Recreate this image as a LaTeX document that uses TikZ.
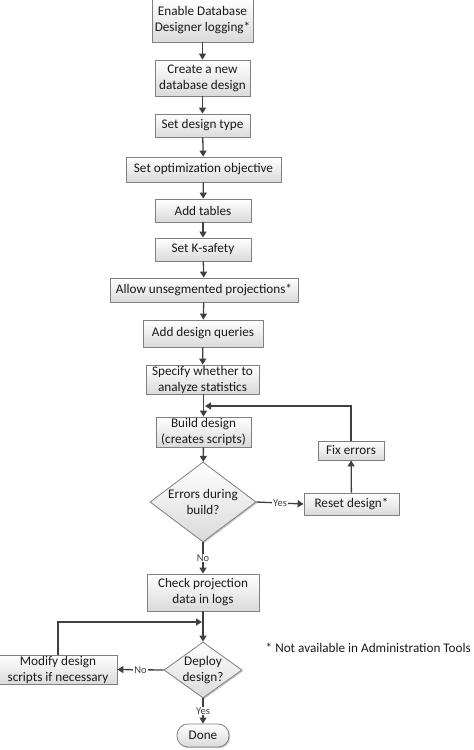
\documentclass[tikz,border=0pt]{standalone}
\usepackage{fontspec}
\setmainfont{Carlito}
\usetikzlibrary{shapes.geometric,shadows,arrows.meta}
\definecolor{boxline}{HTML}{7F7F7F}
\definecolor{arr}{HTML}{404040}
\definecolor{shadeb}{HTML}{DADADA}
\definecolor{txt}{HTML}{1A1A1A}
\begin{document}
\begin{tikzpicture}[x=1pt,y=-1pt,
  common/.style={draw=boxline, line width=0.8pt, top color=white, bottom color=shadeb,
    drop shadow={shadow xshift=1.2pt, shadow yshift=-1.2pt, fill=black, opacity=0.22}},
  stepbox/.style={common, rectangle, align=center, inner sep=0pt, text=txt,
    font=\fontsize{13.2}{16}\selectfont},
  decide/.style={common, diamond, inner sep=0pt},
  dtext/.style={align=center, inner sep=0pt, text=txt, font=\fontsize{13.2}{16}\selectfont},
  flow/.style={draw=arr, line width=1.3pt, -{Triangle[length=6pt,width=7pt]}},
  lbl/.style={fill=white, inner sep=1pt, text=arr, font=\fontsize{10.5}{11}\selectfont}
]
\useasboundingbox (0,0) rectangle (474,750);

\node[stepbox, minimum width=101pt, minimum height=43pt] (e1) at (202.5,20.5) {Enable Database\\Designer logging*};
\node[stepbox, minimum width=95pt, minimum height=36pt] (e2) at (202.5,78) {Create a new\\database design};
\node[stepbox, minimum width=95pt, minimum height=23pt] (e3) at (202.5,125.5) {Set design type};
\node[stepbox, minimum width=155pt, minimum height=25pt] (e4) at (203.5,169.5) {Set optimization objective};
\node[stepbox, minimum width=96pt, minimum height=23pt] (e5) at (203,210.5) {Add tables};
\node[stepbox, minimum width=96pt, minimum height=23pt] (e6) at (203,249.5) {Set K-safety};
\node[stepbox, minimum width=188pt, minimum height=24pt] (e7) at (204,290) {Allow unsegmented projections*};
\node[stepbox, minimum width=120pt, minimum height=27pt] (e8) at (203,333.5) {Add design queries};
\node[stepbox, minimum width=113pt, minimum height=29pt] (e9) at (202.5,379.5) {Specify whether to\\analyze statistics};
\node[stepbox, minimum width=95pt, minimum height=30pt] (e10) at (203.5,432) {Build design\\(creates scripts)};
\node[decide, minimum width=106pt, minimum height=80pt,
  label={[dtext]center:Errors during\\build?}] (d1) at (203,502) {};
\node[stepbox, minimum width=95pt, minimum height=22pt] (reset) at (351.5,504) {Reset design*};
\node[stepbox, minimum width=66pt, minimum height=19pt] (fix) at (351,450.5) {Fix errors};
\node[stepbox, minimum width=112pt, minimum height=37pt] (check) at (203,592.5) {Check projection\\data in logs};
\node[decide, minimum width=78pt, minimum height=56pt,
  label={[dtext]center:Deploy\\design?}] (d2) at (203,670) {};
\node[stepbox, minimum width=118pt, minimum height=29pt] (modify) at (58,669.5) {Modify design\\scripts if necessary};
\node[stepbox, rounded corners=11pt, minimum width=52pt, minimum height=23pt] (done) at (203,735.5) {Done};
\node[anchor=west, inner sep=0pt, text=txt, font=\fontsize{13.2}{15}\selectfont] (note) at (265.5,648) {* Not available in Administration Tools};

\coordinate (j1) at (203,406);
\coordinate (j2) at (203,622);

\draw[flow] (e1) -- (e2);
\draw[flow] (e2) -- (e3);
\draw[flow] (e3) -- (e4);
\draw[flow] (e4) -- (e5);
\draw[flow] (e5) -- (e6);
\draw[flow] (e6) -- (e7);
\draw[flow] (e7) -- (e8);
\draw[flow] (e8) -- (e9);
\draw[flow] (e9.south -| e10) -- (e10);
\draw[flow] (e10) -- (d1);
\draw[flow] (d1.east) -- node[lbl]{Yes} (reset.west);
\draw[flow] (reset) -- (fix);
\draw[flow] (fix.north) |- ([xshift=2pt]j1);
\draw[flow] (d1.south) -- node[lbl]{No} (check.north);
\draw[flow] (check) -- (d2);
\draw[flow] (modify.north) |- ([xshift=-1pt]j2);
\draw[flow] (d2.west) -- node[lbl]{No} (modify.east);
\draw[flow] (d2.south) -- node[lbl]{Yes} (done.north);
\end{tikzpicture}
\end{document}
